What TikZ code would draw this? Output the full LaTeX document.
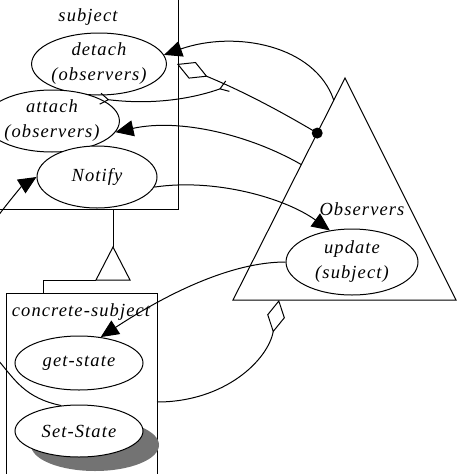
\documentclass[tikz,border=0pt]{standalone}
\usepackage{fontspec}
\setmainfont{Liberation Serif}[LetterSpace=6]
\usetikzlibrary{positioning,arrows.meta,shapes.geometric,calc}

\begin{document}
\begin{tikzpicture}[x=1pt,y=-1pt,
    line/.style={line width=1pt},
    oval/.style={draw,ellipse,line width=1pt,inner sep=0pt,fill=white,
        align=center,font=\fontsize{18.5}{25}\selectfont\itshape},
    title/.style={font=\fontsize{18.5}{25}\selectfont\itshape},
    call/.style={line,-{Triangle[length=18pt,width=16pt]}},
    aggr/.style={line,-{Diamond[open,length=33pt,width=18pt]}},
    crow/.style={line,{Straight Barb[reversed,length=8pt,width=11pt]}-{Straight Barb[reversed,length=8pt,width=11pt]}}
]
\useasboundingbox (0,0) rectangle (474,474);

% subject
\draw[line] (-5,-5) rectangle (178,209);
\node[title] (subjlbl) at (88,17) {subject};
\node[oval,minimum width=122,minimum height=62] (detach) at (99,64) {detach\\(observers)};
\node[oval,minimum width=116,minimum height=62] (attach) at (52,121) {attach\\(observers)};
\node[oval,minimum width=120,minimum height=62] (notify) at (97,177) {Notify};
\coordinate (s1) at (177,64);

% inheritance
\draw[line] (113,209) -- (113,247);
\draw[line] (113,247) -- (96,280) -- (130,280) -- cycle;
\draw[line] (96,280) -- (43,280) -- (43,293);

% concrete-subject
\draw[line] (6,293) rectangle (157,480);
\node[title] (conclbl) at (81,312) {concrete-subject};
\node[oval,minimum width=128,minimum height=54] (getstate) at (79,363) {get-state};
\fill[black!55] (95,445) ellipse [x radius=64, y radius=26];
\node[oval,minimum width=128,minimum height=52] (setstate) at (79,431) {Set-State};
\coordinate (c1) at (157,402);

% observers
\draw[line] (345,78) coordinate (apex) -- (233,300) coordinate (bl)
    -- (456,300) coordinate (br) -- cycle;
\node[title] (obslbl) at (362,209) {Observers};
\node[oval,minimum width=132,minimum height=66] (update) at (352,262) {update\\(subject)};
\coordinate (t1) at ($(apex)!0.1!(bl)$);
\coordinate (t3) at ($(apex)!0.39!(bl)$);
\coordinate (t4) at (279,300);
\node[circle,fill,inner sep=0pt,minimum size=11pt] (dot) at ($(apex)!0.248!(bl)$) {};

% connectors
\draw[call] (t1) .. controls (315,45) and (235,30) .. (detach.8);
\draw[aggr] (dot.center) .. controls (270,105) and (235,88) .. (s1);
\draw[crow] (attach.25) .. controls (160,106) and (200,96) .. (228,86);
\draw[call] (t3) .. controls (250,135) and (180,118) .. (attach.-10);
\draw[call] (notify.-10) .. controls (215,178) and (285,198) .. (update.125);
\draw[call] (update.180) .. controls (230,262) and (165,295) .. (getstate.50);
\draw[aggr] (c1) .. controls (225,402) and (268,360) .. (t4);

% off-page ends
\coordinate (l1) at (-2,216);
\coordinate (l2) at (-2,360);
\draw[call] (l1) .. controls (10,200) and (22,186) .. (notify.west);
\draw[line] (l2) .. controls (15,380) and (25,398) .. (setstate.125);
\end{tikzpicture}
\end{document}
